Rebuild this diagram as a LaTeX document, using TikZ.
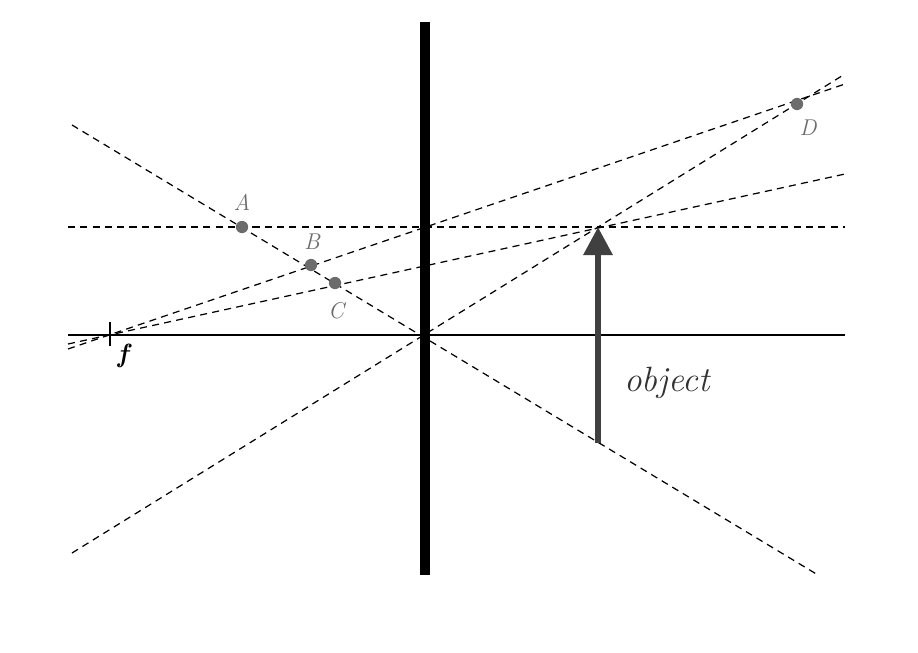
\documentclass[tikz,border=0pt]{standalone}
\usetikzlibrary{arrows.meta}
\begin{document}
\begin{tikzpicture}[x=0.02cm,y=-0.02cm,
  ray/.style={dashed,line width=0.7pt,dash pattern=on 4pt off 3pt},
  pt/.style={circle,fill=gray!85!black,inner sep=0pt,minimum size=7pt},
  lbl/.style={text=gray!85!black,font=\itshape\fontsize{13}{13}\selectfont}]
\useasboundingbox (0,0) rectangle (918,652);
\coordinate (O) at (425,335);
\coordinate (F) at (110,335);
\coordinate (T) at (598,227);
\coordinate (Bot) at (598,443);
% axis
\draw[line width=0.8pt] (68,335) -- (845,335);
% rays
\draw[ray] (68,227) -- (845,227);
\draw[ray] (72,125) -- (818,575);
\draw[ray] (72,553) -- (845,74);
\draw[ray] (68,349) -- (845,84);
\draw[ray] (68,344) -- (845,174);
% lens
\draw[line width=5.5pt] (425,22) -- (425,575);
% object
\draw[line width=3.5pt,draw=black!75,-{Triangle[length=16pt,width=16pt]}] (Bot) -- (T);
\node[font=\itshape\fontsize{20}{20}\selectfont,text=black!80] (obj) at (667,383) {object};
% focal mark
\draw[line width=1.2pt] (110,322) -- (110,346);
\node[font=\bfseries\itshape\fontsize{15}{15}\selectfont] (f) at (123,356) {f};
% points
\node[pt] (A) at (242,227) {};
\node[pt] (B) at (311,265) {};
\node[pt] (C) at (335,283) {};
\node[pt] (D) at (797,104) {};
\node[lbl] at (242,202) {A};
\node[lbl] at (312,242) {B};
\node[lbl] at (336,311) {C};
\node[lbl] at (808,128) {D};
\end{tikzpicture}
\end{document}
